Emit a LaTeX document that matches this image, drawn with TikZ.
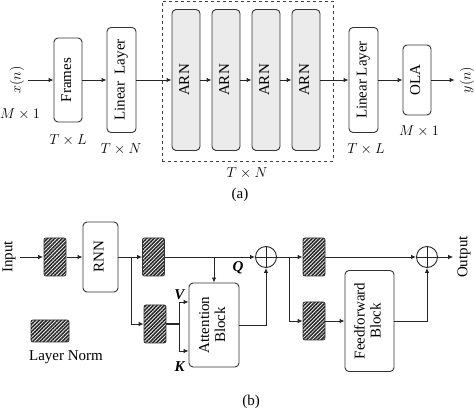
\documentclass[tikz,border=0pt]{standalone}
\usepackage{fontspec}
\usepackage{graphicx}
\setmainfont{Liberation Serif}
\usetikzlibrary{arrows.meta,patterns.meta,positioning}

\newcommand{\vtxt}[1]{\rotatebox{90}{\begin{tabular}{@{}c@{}}#1\end{tabular}}}

\begin{document}
\begin{tikzpicture}[x=1pt, y=-1pt,
	every node/.style={font=\fontsize{15}{16}\selectfont},
	blk/.style={draw=black!80, line width=0.9pt, rounded corners=4pt, inner sep=0pt},
	arn/.style={blk, fill=black!8, minimum width=28pt, minimum height=141pt},
	ln/.style={draw=black!80, line width=0.8pt, rounded corners=2pt, minimum width=22pt, minimum height=38pt, inner sep=0pt, preaction={fill=white}, pattern={Lines[angle=45,distance=2.6pt,line width=1.6pt]}, pattern color=black!85},
	add/.style={draw=black!85, line width=0.9pt, circle, minimum size=21pt, inner sep=0pt, path picture={\draw[line width=0.9pt] (path picture bounding box.north) -- (path picture bounding box.south) (path picture bounding box.west) -- (path picture bounding box.east);}},
	arr/.style={-{Latex[length=5pt,width=4.5pt]}, line width=0.9pt, black!85},
	wire/.style={line width=0.9pt, black!85}]
	\useasboundingbox (0,0) rectangle (474,411);
	% (a)
	\node[inner sep=4pt] (xn) at (17,80) {\rotatebox{90}{$x(n)$}};
	\node (xdim) at (20,114) {$M\times 1$};
	\node[blk, minimum width=28pt, minimum height=84pt] (fr) at (68,80) {\vtxt{Frames}};
	\node (frdim) at (68,140) {$T\times L$};
	\node[blk, minimum width=29pt, minimum height=105pt] (ll1) at (121.5,80) {\vtxt{Linear\ \ Layer}};
	\node (ll1dim) at (121,149) {$T\times N$};
	\foreach \i in {1,...,4}
		\node[arn] (arn\i) at ({146+40*\i},80) {\vtxt{ARN}};
	\node[draw=black!75, dashed, line width=0.8pt, minimum width=171pt, minimum height=160pt, inner sep=0pt] (grp) at (247.5,81) {};
	\node (grpdim) at (247,173) {$T\times N$};
	\node[blk, minimum width=29pt, minimum height=105pt] (ll2) at (363.5,80) {\vtxt{Linear Layer}};
	\node (ll2dim) at (366,149) {$T\times L$};
	\node[blk, minimum width=28pt, minimum height=70pt] (ola) at (417,80) {\vtxt{OLA}};
	\node (oladim) at (419,131) {$M\times 1$};
	\node[inner sep=5pt] (yn) at (467,80) {\rotatebox{90}{$y(n)$}};
	\node (capa) at (240,195) {(a)};
	\draw[arr] (xn) -- (fr);
	\draw[arr] (fr) -- (ll1);
	\draw[arr] (ll1) -- (arn1);
	\foreach \i/\j in {1/2,2/3,3/4}
		\draw[arr] (arn\i) -- (arn\j);
	\draw[arr] (arn4) -- (ll2);
	\draw[arr] (ll2) -- (ola);
	\draw[arr] (ola) -- (yn);
	% (b)
	\node[inner sep=4pt] (in) at (9,257) {\rotatebox{90}{Input}};
	\node[ln] (ln1) at (55,257) {};
	\node[blk, minimum width=35pt, minimum height=70pt] (rnn) at (100.5,257) {\vtxt{RNN}};
	\node[ln] (ln2) at (153.5,257) {};
	\node[ln] (ln3) at (155,324) {};
	\node[blk, minimum width=50pt, minimum height=84pt] (att) at (214,325) {\vtxt{Attention\\Block}};
	\node[add] (p1) at (266,257) {};
	\node[ln] (ln4) at (314,257) {};
	\node[ln] (ln5) at (314,321) {};
	\node[blk, minimum width=49pt, minimum height=101pt] (ff) at (369.5,321) {\vtxt{Feedforward\\Block}};
	\node[add] (p2) at (427,257) {};
	\node[inner sep=4pt] (out) at (464,257) {\rotatebox{90}{Output}};
	\node[ln, minimum width=38pt, minimum height=22pt] (key) at (50,331) {};
	\node (keytxt) at (66,357) {Layer Norm};
	\node (q) at (238,268) {\textbf{\textit{Q}}};
	\node (v) at (180,295) {\textbf{\textit{V}}};
	\node (k) at (180,367) {\textbf{\textit{K}}};
	\node (capb) at (251,402) {(b)};
	\coordinate (s1) at (131,257);
	\coordinate (vk) at (179,324);
	\coordinate (s2) at (289,257);
	\draw[arr] (in) -- (ln1);
	\draw[arr] (ln1) -- (rnn);
	\draw[wire] (rnn) -- (s1);
	\draw[arr] (s1) -- (ln2);
	\draw[arr] (s1) |- (ln3);
	\draw[arr] (ln2) -- (p1);
	\draw[arr] (ln2 -| att) -- (att);
	\draw[wire, line width=1.6pt] (ln3) -- (vk);
	\draw[arr] (vk) |- ([yshift=23pt]att.west);
	\draw[arr] (vk) |- ([yshift=-26pt]att.west);
	\draw[arr] (att) -| (p1);
	\draw[wire] (p1) -- (s2);
	\draw[arr] (s2) -- (ln4);
	\draw[arr] (s2) |- (ln5);
	\draw[arr] (ln5) -- (ff);
	\draw[arr] (ff) -| (p2);
	\draw[arr] (ln4) -- (p2);
	\draw[arr] (p2) -- (out);
\end{tikzpicture}
\end{document}
